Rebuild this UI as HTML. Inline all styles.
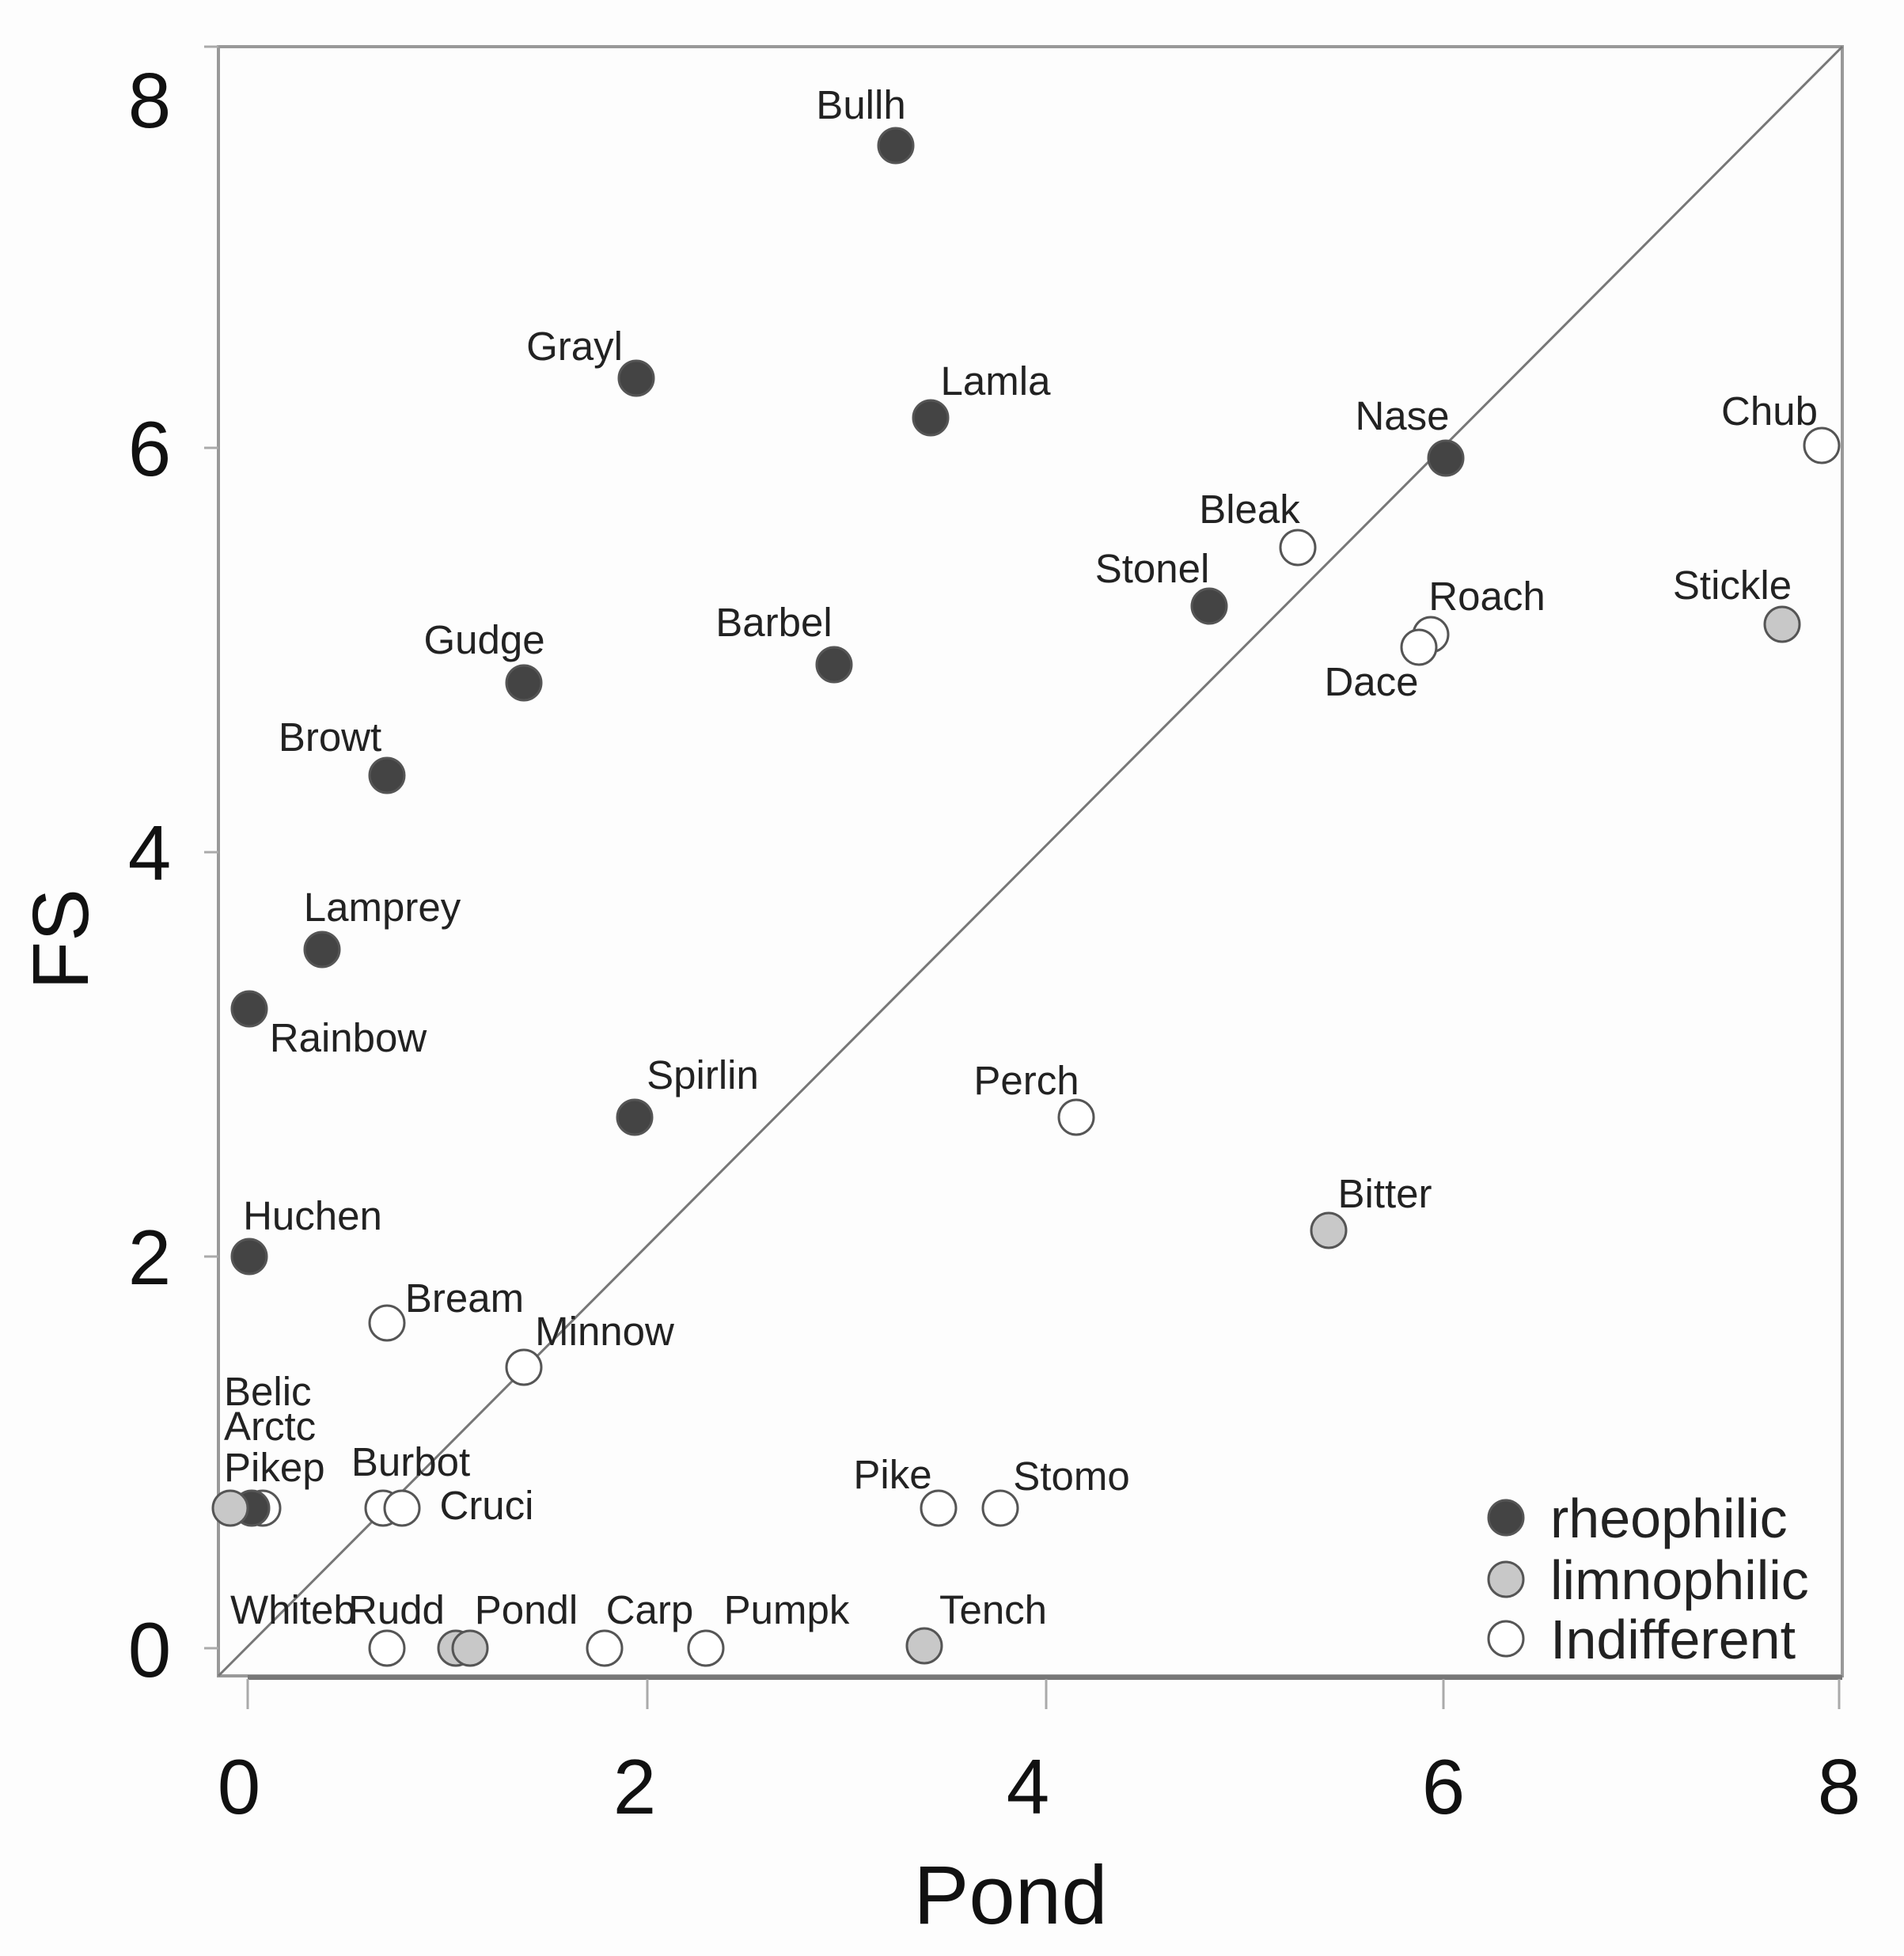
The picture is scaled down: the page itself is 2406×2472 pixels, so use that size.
<!DOCTYPE html>
<html><head><style>html,body{margin:0;padding:0;background:#fdfdfd}</style></head><body>
<svg width="2406" height="2467" viewBox="0 0 2406 2467" xmlns="http://www.w3.org/2000/svg" font-family="Liberation Sans, Arial, sans-serif">
<rect width="2406" height="2467" fill="#fdfdfd"/>
<rect x="276" y="59" width="2052" height="2059" fill="none" stroke="#999" stroke-width="4"/>
<line x1="313" y1="2120" x2="2328" y2="2120" stroke="#777" stroke-width="6"/>
<line x1="276" y1="2118" x2="2328" y2="59" stroke="#777" stroke-width="3"/>
<g stroke="#aaa" stroke-width="3">
<line x1="313" y1="2122" x2="313" y2="2160"/><line x1="818" y1="2122" x2="818" y2="2160"/><line x1="1322" y1="2122" x2="1322" y2="2160"/><line x1="1824" y1="2122" x2="1824" y2="2160"/><line x1="2324" y1="2122" x2="2324" y2="2160"/>
<line x1="258" y1="2083" x2="276" y2="2083"/><line x1="258" y1="1588" x2="276" y2="1588"/><line x1="258" y1="1077" x2="276" y2="1077"/><line x1="258" y1="566" x2="276" y2="566"/><line x1="258" y1="59" x2="276" y2="59"/>
</g>
<g font-size="98" fill="#111" text-anchor="middle">
<text x="302" y="2292">0</text><text x="802" y="2292">2</text><text x="1299" y="2292">4</text><text x="1824" y="2292">6</text><text x="2324" y="2292">8</text>
<text x="189" y="2119">0</text><text x="189" y="1623">2</text><text x="189" y="1112">4</text><text x="189" y="601">6</text><text x="189" y="161">8</text>
</g>
<text x="1277" y="2431" font-size="105" text-anchor="middle" fill="#111">Pond</text>
<text transform="translate(111,1187) rotate(-90)" font-size="100" text-anchor="middle" fill="#111">FS</text>
<g stroke="#555" stroke-width="3">
<g fill="#fff">
<circle cx="2302" cy="563" r="22"/><circle cx="1640" cy="692" r="22"/><circle cx="1808" cy="802" r="22"/><circle cx="1793" cy="818" r="22"/><circle cx="1360" cy="1412" r="22"/><circle cx="489" cy="1672" r="22"/><circle cx="662" cy="1728" r="22"/>
<circle cx="332" cy="1906" r="22"/><circle cx="484" cy="1906" r="22"/><circle cx="508" cy="1906" r="22"/><circle cx="1186" cy="1906" r="22"/><circle cx="1264" cy="1906" r="22"/>
<circle cx="489" cy="2083" r="22"/><circle cx="764" cy="2083" r="22"/><circle cx="892" cy="2083" r="22"/>
</g>
<g fill="#c8c8c8">
<circle cx="2252" cy="789" r="22"/><circle cx="1679" cy="1555" r="22"/><circle cx="576" cy="2083" r="22"/><circle cx="594" cy="2083" r="22"/><circle cx="1168" cy="2080" r="22"/>
</g>
<g fill="#444">
<circle cx="1132" cy="184" r="22"/><circle cx="804" cy="478" r="22"/><circle cx="1176" cy="528" r="22"/><circle cx="1827" cy="579" r="22"/><circle cx="1528" cy="766" r="22"/><circle cx="662" cy="863" r="22"/><circle cx="1054" cy="840" r="22"/><circle cx="489" cy="980" r="22"/><circle cx="407" cy="1200" r="22"/><circle cx="315" cy="1275" r="22"/><circle cx="802" cy="1412" r="22"/><circle cx="315" cy="1588" r="22"/><circle cx="318" cy="1906" r="22"/>
</g>
<circle cx="291" cy="1906" r="22" fill="#c8c8c8"/>
<circle cx="1903" cy="1918" r="22" fill="#444"/><circle cx="1903" cy="1996" r="22" fill="#c8c8c8"/><circle cx="1903" cy="2071" r="22" fill="#fff"/>
</g>
<g font-size="51" fill="#222" text-anchor="middle">
<text x="1088" y="150">Bullh</text><text x="726" y="455">Grayl</text><text x="1258" y="499">Lamla</text><text x="1772" y="543">Nase</text><text x="2236" y="537">Chub</text><text x="1579" y="661">Bleak</text><text x="1456" y="736">Stonel</text><text x="1879" y="771">Roach</text><text x="1733" y="879">Dace</text><text x="2189" y="757">Stickle</text><text x="612" y="826">Gudge</text><text x="978" y="804">Barbel</text><text x="417" y="949">Browt</text><text x="483" y="1164">Lamprey</text><text x="440" y="1329">Rainbow</text><text x="888" y="1376">Spirlin</text><text x="1297" y="1383">Perch</text><text x="1750" y="1526">Bitter</text><text x="395" y="1554">Huchen</text><text x="587" y="1658">Bream</text><text x="764" y="1700">Minnow</text><text x="519" y="1865">Burbot</text><text x="615" y="1920">Cruci</text><text x="1128" y="1881">Pike</text><text x="1354" y="1883">Stomo</text><text x="665" y="2052">Pondl</text><text x="821" y="2052">Carp</text><text x="994" y="2052">Pumpk</text><text x="1255" y="2052">Tench</text>
</g>
<g font-size="51" fill="#222">
<text x="283" y="1776">Belic</text><text x="283" y="1820">Arctc</text><text x="283" y="1872">Pikep</text>
<text x="291" y="2052">Whiteb</text><text x="440" y="2052">Rudd</text>
</g>
<g font-size="70" fill="#222">
<text x="1959" y="1943">rheophilic</text><text x="1959" y="2021">limnophilic</text><text x="1959" y="2096">Indifferent</text>
</g>
</svg>
</body></html>
